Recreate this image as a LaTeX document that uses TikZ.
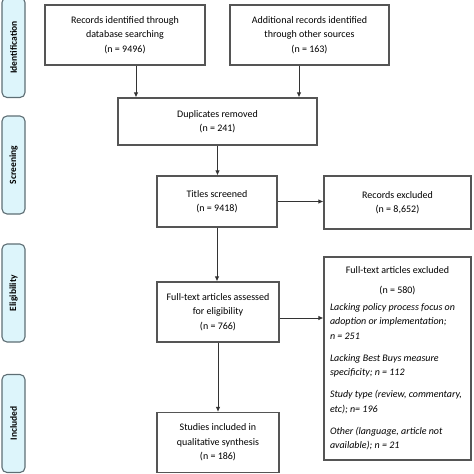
\documentclass[tikz,border=0pt]{standalone}
\usepackage{fontspec}
\setmainfont{Carlito}
\usetikzlibrary{arrows.meta}
\definecolor{panelfill}{HTML}{DDF5FB}
\definecolor{panelline}{HTML}{5E6E74}
\definecolor{boxline}{HTML}{555555}
\definecolor{arrline}{HTML}{333333}
\tikzset{
  box/.style={draw=boxline, line width=1.2pt, align=center, inner sep=2pt,
    font=\fontsize{10}{14.5}\selectfont},
  panel/.style={draw=panelline, fill=panelfill, line width=1.1pt, rounded corners=5pt,
    minimum width=23pt, inner sep=0pt},
  paneltext/.style={rotate=90, font=\fontsize{9.5}{11}\selectfont\bfseries},
  arr/.style={draw=arrline, line width=0.9pt, -{Latex[length=5pt,width=4.5pt]}}
}
\begin{document}
\begin{tikzpicture}[x=1pt,y=-1pt]
\useasboundingbox (0,0) rectangle (474,474);
% side panels
\node[panel, minimum height=100pt] (pid) at (13.5,47.5) {};
\node[paneltext] (tid) at (pid.center) {Identification};
\node[panel, minimum height=98pt] (psc) at (13.5,165) {};
\node[paneltext] (tsc) at (psc.center) {Screening};
\node[panel, minimum height=98pt] (pel) at (13.5,293) {};
\node[paneltext] (tel) at (pel.center) {Eligibility};
\node[panel, minimum height=98pt] (pin) at (13.5,423.5) {};
\node[paneltext] (tin) at (pin.center) {Included};
% boxes
\node[box, minimum width=160pt, minimum height=60pt] (rec1) at (125,35)
  {Records identified through\\database searching\\(n = 9496)};
\node[box, minimum width=159pt, minimum height=60pt] (rec2) at (309.5,35)
  {Additional records identified\\through other sources\\(n = 163)};
\node[box, minimum width=199pt, minimum height=47pt] (dup) at (217.5,121.5)
  {Duplicates removed\\(n = 241)};
\node[box, minimum width=120pt, minimum height=51pt] (tit) at (217,201.5)
  {Titles screened\\(n = 9418)};
\node[box, minimum width=147pt, minimum height=53pt] (rex) at (397.5,202.5)
  {Records excluded\\(n = 8,652)};
\node[box, minimum width=122pt, minimum height=60pt] (full) at (218,312)
  {Full-text articles assessed\\for eligibility\\(n = 766)};
\node[box, minimum width=147pt, minimum height=203pt] (excl) at (397.5,358.5)
  {\begin{minipage}{135pt}\centering
   Full-text articles excluded\\[5.5pt]
   (n = 580)\par\vspace{2pt}
   \raggedright\itshape
   Lacking policy process focus on\\adoption or implementation;\\n = 251\par\vspace{7.5pt}
   Lacking Best Buys measure\\specificity; n = 112\par\vspace{7.5pt}
   Study type (review, commentary,\\etc); n= 196\par\vspace{7.5pt}
   Other (language, article not\\available); n = 21
   \end{minipage}};
\node[box, minimum width=122pt, minimum height=60pt] (inc) at (218,442.5)
  {Studies included in\\qualitative synthesis\\(n = 186)};
% arrows
\draw[arr] ([xshift=11pt]rec1.south) -- ([xshift=11pt]rec1.south |- dup.north);
\draw[arr] ([xshift=-10.5pt]rec2.south) -- ([xshift=-10.5pt]rec2.south |- dup.north);
\draw[arr] (dup.south) -- (dup.south |- tit.north);
\draw[arr] (tit.east) -- (tit.east -| rex.west);
\draw[arr] (tit.south) -- (tit.south |- full.north);
\draw[arr] ([yshift=-6pt]full.east) -- ([yshift=-6pt]full.east -| excl.west);
\draw[arr] (full.south) -- (full.south |- inc.north);
\end{tikzpicture}
\end{document}
